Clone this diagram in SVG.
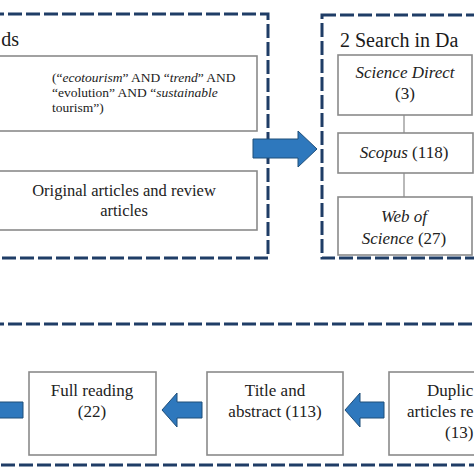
<svg xmlns="http://www.w3.org/2000/svg" width="474" height="474" viewBox="0 0 474 474">
<defs>
<style>
.frame{fill:none;stroke:#1f3d66;stroke-width:3;stroke-dasharray:14 4}
.box{fill:#fff;stroke:#8a8a8a;stroke-width:1.6}
.t{font-family:"Liberation Serif","Times New Roman",serif;font-size:17px;fill:#222}
.s{font-size:13.5px}
.m{font-size:16.5px}
.h{font-family:"Liberation Serif","Times New Roman",serif;font-size:20px;fill:#1a1a1a}
.c{text-anchor:middle}
.i{font-style:italic}
.arrow{fill:#2e78bd;stroke:#1f4e79;stroke-width:1}
.link{stroke:#8a8a8a;stroke-width:1.2;fill:none}
</style>
</defs>
<rect width="474" height="474" fill="#fff"/>
<g id="frames">
<rect class="frame" x="-10" y="14" width="278" height="244"/>
<rect class="frame" x="322" y="15" width="200" height="243"/>
<rect class="frame" x="-10" y="324" width="500" height="141"/>
</g>
<text class="h" x="19" y="46" text-anchor="end">ds</text>
<text class="h" x="340" y="47">2 Search in Da</text>
<g id="connectors">
<line class="link" x1="404" y1="115" x2="404" y2="133"/>
<line class="link" x1="404" y1="173" x2="404" y2="197"/>
<polygon class="arrow" points="253,139 298,139 298,131 317,149 298,167 298,158 253,158"/>
<polygon class="arrow" points="202,402 177,402 177,393 162,410 177,427 177,418 202,418"/>
<polygon class="arrow" points="384,402 360,402 360,393 345,410 360,427 360,418 384,418"/>
<polygon class="arrow" points="23,402 -2,402 -2,393 -17,410 -2,427 -2,418 23,418"/>
</g>
<g id="keywords">
<rect class="box" x="-10" y="56" width="267" height="75"/>
<text class="t s" x="52" y="82">(“<tspan class="i">ecotourism</tspan>” AND “<tspan class="i">trend</tspan>” AND</text>
<text class="t s" x="52" y="97">“evolution” AND “<tspan class="i">sustainable</tspan></text>
<text class="t s" x="52" y="112">tourism”)</text>
</g>
<g id="types">
<rect class="box" x="-10" y="171" width="267" height="59"/>
<text class="t m c" x="124" y="196">Original articles and review</text>
<text class="t m c" x="124" y="216">articles</text>
</g>
<g id="sciencedirect">
<rect class="box" x="338" y="55" width="134" height="60"/>
<text class="t c i" x="405" y="78">Science Direct</text>
<text class="t c" x="405" y="99">(3)</text>
</g>
<g id="scopus">
<rect class="box" x="338" y="133" width="135" height="40"/>
<text class="t c" x="404" y="158"><tspan class="i">Scopus</tspan> (118)</text>
</g>
<g id="wos">
<rect class="box" x="338" y="197" width="134" height="58"/>
<text class="t c i" x="404" y="222">Web of</text>
<text class="t c" x="404" y="244"><tspan class="i">Science</tspan> (27)</text>
</g>
<g id="fullreading">
<rect class="box" x="29" y="372" width="127" height="83"/>
<text class="t c" x="92" y="396">Full reading</text>
<text class="t c" x="92" y="417">(22)</text>
</g>
<g id="titleabstract">
<rect class="box" x="207" y="372" width="136" height="83"/>
<text class="t c" x="275" y="396">Title and</text>
<text class="t c" x="275" y="417">abstract (113)</text>
</g>
<g id="duplicates">
<rect class="box" x="389" y="372" width="136" height="83"/>
<text class="t" x="427" y="396">Duplic</text>
<text class="t" x="407" y="417">articles re</text>
<text class="t" x="445" y="438">(13)</text>
</g>
</svg>
